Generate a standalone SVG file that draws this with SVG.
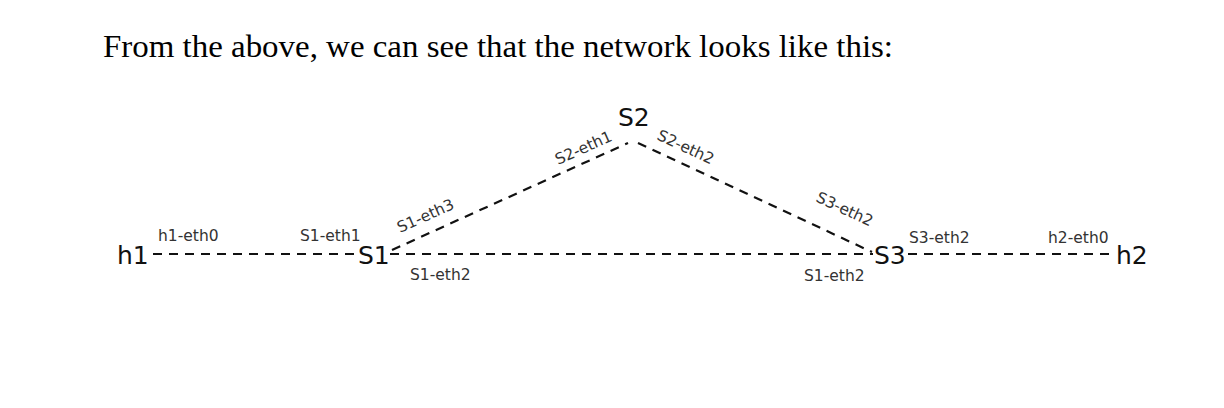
<svg xmlns="http://www.w3.org/2000/svg" width="1224" height="408" viewBox="0 0 1224 408">
<style>
.t{font-family:"Liberation Serif",serif;font-size:32px;fill:#000}
.n{font-family:"DejaVu Sans","Liberation Sans",sans-serif;font-size:25px;fill:#111}
.l{font-family:"DejaVu Sans","Liberation Sans",sans-serif;font-size:15.5px;fill:#333}
.e{stroke:#111;stroke-width:2.2;stroke-dasharray:9,7;fill:none}
</style>
<rect width="1224" height="408" fill="#fff"/>
<text class="t" x="103" y="57" textLength="790" lengthAdjust="spacingAndGlyphs">From the above, we can see that the network looks like this:</text>
<g id="connectors">
<line class="e" x1="153" y1="254" x2="357" y2="254"/>
<line class="e" x1="390" y1="254" x2="873" y2="254"/>
<line class="e" x1="908" y1="254" x2="1115" y2="254"/>
<line class="e" x1="392" y1="250" x2="628" y2="143"/>
<line class="e" x1="638" y1="143" x2="872" y2="252"/>
</g>
<g id="h1"><text class="n" x="117" y="264">h1</text></g>
<g id="S1"><text class="n" x="358" y="264">S1</text></g>
<g id="S2"><text class="n" x="618" y="126">S2</text></g>
<g id="S3"><text class="n" x="874" y="264">S3</text></g>
<g id="h2"><text class="n" x="1116" y="264">h2</text></g>
<g id="labels">
<text class="l" x="158" y="241">h1-eth0</text>
<text class="l" x="300" y="241">S1-eth1</text>
<text class="l" transform="translate(400,233) rotate(-24)">S1-eth3</text>
<text class="l" x="410" y="280">S1-eth2</text>
<text class="l" transform="translate(558,165) rotate(-24)">S2-eth1</text>
<text class="l" transform="translate(656,139) rotate(25)">S2-eth2</text>
<text class="l" transform="translate(815,201) rotate(25)">S3-eth2</text>
<text class="l" x="804" y="281">S1-eth2</text>
<text class="l" x="909" y="243">S3-eth2</text>
<text class="l" x="1048" y="243">h2-eth0</text>
</g>
</svg>
